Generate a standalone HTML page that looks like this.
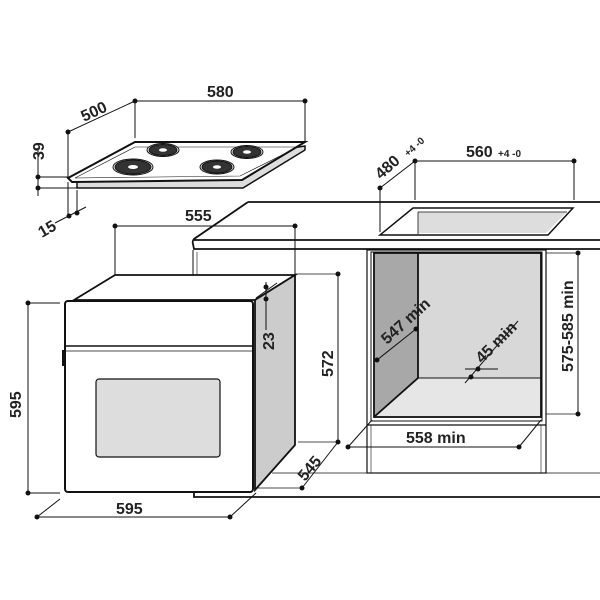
<!DOCTYPE html>
<html><head><meta charset="utf-8"><style>
html,body{margin:0;padding:0;background:#fff}
svg{display:block}
text{font-family:"Liberation Sans",Arial,sans-serif;font-size:16px;fill:#222;font-weight:bold}
.s{font-size:10px}
</style></head><body>
<svg width="600" height="600" viewBox="0 0 600 600" xmlns="http://www.w3.org/2000/svg">
<g stroke="#111" fill="none" stroke-width="1">
<!-- HOB -->
<polygon points="77,182 305,146 305,150 243,188 77,188" fill="#ddd" stroke-width="1.5"/>
<polygon points="68,178 135,142 305,142 242,180 72,182" fill="#fff" stroke-width="2"/>
<polyline points="75,178 135,147 298,147 240,176 75,178" stroke-width="0.6"/>
<g fill="#333">
<ellipse cx="163" cy="150" rx="16" ry="6.5" fill="#fff"/><ellipse cx="163" cy="150" rx="14" ry="5.5"/>
<ellipse cx="247" cy="152" rx="16" ry="6.5" fill="#fff"/><ellipse cx="247" cy="152" rx="14" ry="5.5"/>
<ellipse cx="133" cy="167" rx="20" ry="8" fill="#fff"/><ellipse cx="133" cy="167" rx="18" ry="7"/>
<ellipse cx="217" cy="167" rx="17" ry="7" fill="#fff"/><ellipse cx="217" cy="167" rx="15" ry="6"/>
</g>
<g fill="#fff" stroke="none"><ellipse cx="163" cy="150" rx="4" ry="1.8"/><ellipse cx="247" cy="152" rx="4" ry="1.8"/><ellipse cx="133" cy="167" rx="5" ry="2"/><ellipse cx="217" cy="167" rx="4" ry="1.8"/></g>
<!-- hob dims -->
<line x1="135" y1="101" x2="305" y2="101"/><line x1="135" y1="101" x2="135" y2="138"/><line x1="305" y1="101" x2="305" y2="142"/>
<line x1="68" y1="132" x2="135" y2="101"/><line x1="68" y1="132" x2="68" y2="178"/>
<line x1="38" y1="150" x2="38" y2="196"/><line x1="38" y1="177" x2="68" y2="177"/><line x1="38" y1="188" x2="77" y2="188"/>
<line x1="68" y1="182" x2="68" y2="216"/><line x1="77" y1="190" x2="77" y2="213"/><line x1="55" y1="223" x2="86" y2="207"/>
<!-- COUNTER -->
<path d="M248,202 L600,202 M248,202 L194,239 Q192,241 193,244 L194,249 L600,249 M194,240 L600,240" stroke-width="1.8"/>
<polygon points="413,208 573,208 548,235 380,235" fill="#fff" stroke-width="1.5"/>
<polygon points="418,212 567,212 546,233 418,233" fill="#ddd" stroke="none"/>
<polygon points="413,211 418,211 418,233 388,233" fill="#fff" stroke="none"/>
<line x1="418" y1="212" x2="418" y2="234" stroke-width="0.8"/><line x1="418" y1="212" x2="567" y2="212" stroke-width="0.8"/>
<line x1="415" y1="161" x2="574" y2="161"/><line x1="415" y1="161" x2="415" y2="200"/><line x1="574" y1="161" x2="574" y2="200"/>
<line x1="380" y1="188" x2="415" y2="161"/><line x1="380" y1="188" x2="380" y2="232"/>
<!-- left cabinet side -->
<line x1="193" y1="250" x2="193" y2="275"/><line x1="197" y1="252" x2="197" y2="275" stroke-width="0.6"/>
<line x1="115" y1="226" x2="295" y2="226"/><line x1="115" y1="226" x2="115" y2="275"/><line x1="295" y1="226" x2="295" y2="275"/>
<!-- base lines -->
<path d="M194,490 L194,497 L600,497" stroke-width="1.8"/>
<line x1="256" y1="488" x2="302" y2="488" stroke-width="0.8"/>
<line x1="272" y1="473" x2="370" y2="473" stroke-width="0.8"/><line x1="546" y1="473" x2="600" y2="473" stroke-width="0.8"/>
<line x1="298" y1="442" x2="338" y2="442" stroke-width="0.8"/><line x1="296" y1="274" x2="338" y2="274" stroke-width="0.8"/>
<!-- OVEN -->
<polygon points="74,300 115,275 295,275 255,300" fill="#fff" stroke-width="1.8"/>
<polygon points="255,300 295,275 295,445 255,490" fill="#ccc" stroke-width="1.8"/>
<rect x="65" y="301" width="188" height="191" rx="3" fill="#fff" stroke-width="2"/>
<line x1="65" y1="346" x2="253" y2="346" stroke-width="1.5"/><line x1="65" y1="351" x2="253" y2="351" stroke-width="0.8"/>
<line x1="63" y1="350" x2="63" y2="366" stroke-width="2"/>
<rect x="96" y="379" width="124" height="78" rx="3" fill="#ddd" stroke-width="1.2"/>
<!-- oven dims -->
<line x1="28" y1="303" x2="28" y2="493"/><line x1="28" y1="303" x2="60" y2="303"/><line x1="28" y1="493" x2="60" y2="493"/>
<line x1="37" y1="517" x2="230" y2="517"/><line x1="37" y1="517" x2="60" y2="499"/><line x1="230" y1="517" x2="256" y2="493"/>
<line x1="338" y1="274" x2="338" y2="442"/>
<line x1="338" y1="442" x2="302" y2="488"/>
<line x1="266" y1="282" x2="266" y2="330"/><line x1="256" y1="298" x2="277" y2="283"/>
<!-- CAVITY CABINET -->
<rect x="367" y="250" width="179" height="223" fill="#fff" stroke-width="1.2"/>
<rect x="371" y="252" width="171" height="169" fill="#fff" stroke-width="1"/>
<rect x="374" y="253" width="167" height="164" fill="#d8d8d8" stroke="none"/>
<polygon points="374,253 418,253 418,378 374,417" fill="#a8a8a8" stroke="none"/>
<polygon points="418,378 541,378 541,417 374,417" fill="#e6e6e6" stroke="none"/>
<rect x="374" y="253" width="167" height="164" stroke-width="1.8"/>
<line x1="418" y1="253" x2="418" y2="378" stroke-width="1.8"/><line x1="418" y1="378" x2="374" y2="417" stroke-width="1.8"/><line x1="418" y1="378" x2="541" y2="378" stroke-width="1"/>
<line x1="367" y1="425" x2="546" y2="425" stroke-width="1.2"/>
<line x1="371" y1="425" x2="371" y2="473" stroke-width="0.6"/><line x1="541" y1="425" x2="541" y2="473" stroke-width="0.6"/>
<line x1="546" y1="253" x2="578" y2="253" stroke-width="0.8"/><line x1="546" y1="414" x2="578" y2="414" stroke-width="0.8"/>
<line x1="578" y1="253" x2="578" y2="414"/>
<line x1="348" y1="447" x2="519" y2="447"/><line x1="348" y1="447" x2="372" y2="420"/><line x1="519" y1="447" x2="541" y2="420"/>
<line x1="377" y1="360" x2="416" y2="329"/>
<line x1="465" y1="383" x2="518" y2="321"/><line x1="465" y1="369" x2="498" y2="369"/>
</g>
<g fill="#111">
<circle cx="135" cy="101" r="2.5"/><circle cx="305" cy="101" r="2.5"/><circle cx="68" cy="132" r="2.5"/>
<circle cx="38" cy="177" r="2.5"/><circle cx="38" cy="188" r="2.5"/><circle cx="69" cy="216" r="2.5"/><circle cx="77" cy="213" r="2.5"/>
<circle cx="115" cy="226" r="2.5"/><circle cx="295" cy="226" r="2.5"/>
<circle cx="415" cy="161" r="2.5"/><circle cx="574" cy="161" r="2.5"/><circle cx="380" cy="188" r="2.5"/>
<circle cx="28" cy="303" r="2.5"/><circle cx="28" cy="493" r="2.5"/><circle cx="37" cy="517" r="2.5"/><circle cx="230" cy="517" r="2.5"/>
<circle cx="338" cy="274" r="2.5"/><circle cx="338" cy="442" r="2.5"/><circle cx="302" cy="488" r="2.5"/>
<circle cx="266" cy="287" r="2.5"/><circle cx="266" cy="299" r="2.5"/>
<circle cx="578" cy="253" r="2.5"/><circle cx="578" cy="414" r="2.5"/>
<circle cx="348" cy="447" r="2.5"/><circle cx="519" cy="447" r="2.5"/>
<circle cx="377" cy="360" r="2.5"/><circle cx="416" cy="329" r="2.5"/>
<circle cx="478" cy="369" r="2.5"/><circle cx="471" cy="377" r="2.5"/>
</g>
<text x="207" y="97">580</text>
<text transform="translate(84,122) rotate(-25)">500</text>
<text transform="translate(44,160) rotate(-90)">39</text>
<text transform="translate(42,238) rotate(-30)">15</text>
<text x="185" y="221">555</text>
<text x="466" y="157">560</text><text class="s" x="498" y="157">+4 -0</text>
<text transform="translate(381,180) rotate(-42)">480</text><text class="s" transform="translate(408,157) rotate(-42)">+4 -0</text>
<text transform="translate(21,418) rotate(-90)">595</text>
<text x="116" y="514">595</text>
<text transform="translate(333,377) rotate(-90)">572</text>
<text transform="translate(274,350) rotate(-90)">23</text>
<text transform="translate(305,482) rotate(-50)">545</text>
<text transform="translate(573,372) rotate(-90)">575-585 min</text>
<text x="406" y="443">558 min</text>
<text transform="translate(387,345) rotate(-42)">547 min</text>
<text transform="translate(482,364) rotate(-45)">45 min</text>
</svg>
</body></html>
